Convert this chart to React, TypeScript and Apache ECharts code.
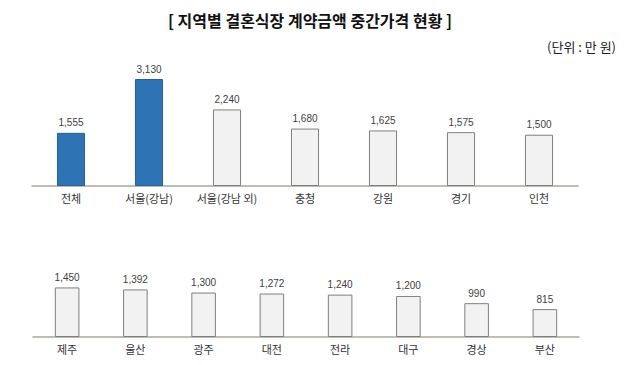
import React, { useEffect, useRef } from "react";
import * as echarts from "echarts";

const titleText = "[ 지역별 결혼식장 계약금액 중간가격 현황 ]";
const unitText = "(단위 : 만 원)";

const topCategories = ["전체", "서울(강남)", "서울(강남 외)", "충청", "강원", "경기", "인천"];
const topValues = [1555, 3130, 2240, 1680, 1625, 1575, 1500];
const topHighlighted = ["전체", "서울(강남)"];

const bottomCategories = ["제주", "울산", "광주", "대전", "전라", "대구", "경상", "부산"];
const bottomValues = [1450, 1392, 1300, 1272, 1240, 1200, 990, 815];

const KR = '"Noto Sans CJK KR", "Noto Sans", sans-serif';
const NUM = '"Liberation Sans", Arial, sans-serif';

const grayStyle = { color: "#f2f2f2", borderColor: "#7f7f7f", borderWidth: 1 };
const blueStyle = { color: "#2e74b5", borderColor: "#25609a", borderWidth: 1 };

export default function App() {
  const ref = useRef<HTMLDivElement>(null);
  useEffect(() => {
    if (!ref.current) return;
    const chart = echarts.init(ref.current, null, { renderer: "svg" });
    const axisLine = { lineStyle: { color: "#a8a89a", width: 1.5 } };
    const axisTick = { alignWithLabel: false, length: 3, lineStyle: { color: "#a8a89a" } };
    const axisLabel = { color: "#333", fontFamily: KR, fontSize: 11, margin: 6, interval: 0 };
    const yMax = 3130;
    const label = {
      show: true,
      position: "top" as const,
      distance: 5,
      color: "#404040",
      fontFamily: NUM,
      fontSize: 10,
      formatter: (p: any) => Number(p.value).toLocaleString("en-US"),
    };
    chart.setOption({
      animation: false,
      backgroundColor: "#ffffff",
      title: [
        {
          text: titleText,
          left: 305,
          textAlign: "center",
          top: 7,
          textStyle: { fontFamily: KR, fontSize: 16, fontWeight: "bold", color: "#111" },
        },
        {
          text: unitText,
          right: 19,
          top: 35,
          textStyle: { fontFamily: KR, fontSize: 13, fontWeight: "normal", color: "#222" },
        },
      ],
      grid: [
        { left: 32, right: 62, top: 79, height: 107 },
        { left: 33, right: 61, top: 230, height: 107 },
      ],
      xAxis: [
        { type: "category", gridIndex: 0, data: topCategories, axisLine, axisTick, axisLabel },
        { type: "category", gridIndex: 1, data: bottomCategories, axisLine, axisTick, axisLabel },
      ],
      yAxis: [
        { type: "value", gridIndex: 0, min: 0, max: yMax, show: false, splitLine: { show: false } },
        { type: "value", gridIndex: 1, min: 0, max: yMax, show: false, splitLine: { show: false } },
      ],
      series: [
        {
          type: "bar",
          xAxisIndex: 0,
          yAxisIndex: 0,
          barWidth: "36%",
          label,
          data: topCategories.map((c, i) => ({
            value: topValues[i],
            itemStyle: topHighlighted.includes(c) ? blueStyle : grayStyle,
          })),
        },
        {
          type: "bar",
          xAxisIndex: 1,
          yAxisIndex: 1,
          barWidth: "36%",
          label,
          itemStyle: grayStyle,
          data: bottomValues,
        },
      ],
    });
    return () => chart.dispose();
  }, []);
  return (
    <div
      ref={ref}
      style={{ position: "fixed", left: 0, top: 0, width: 640, height: 365, background: "#fff" }}
    />
  );
}
